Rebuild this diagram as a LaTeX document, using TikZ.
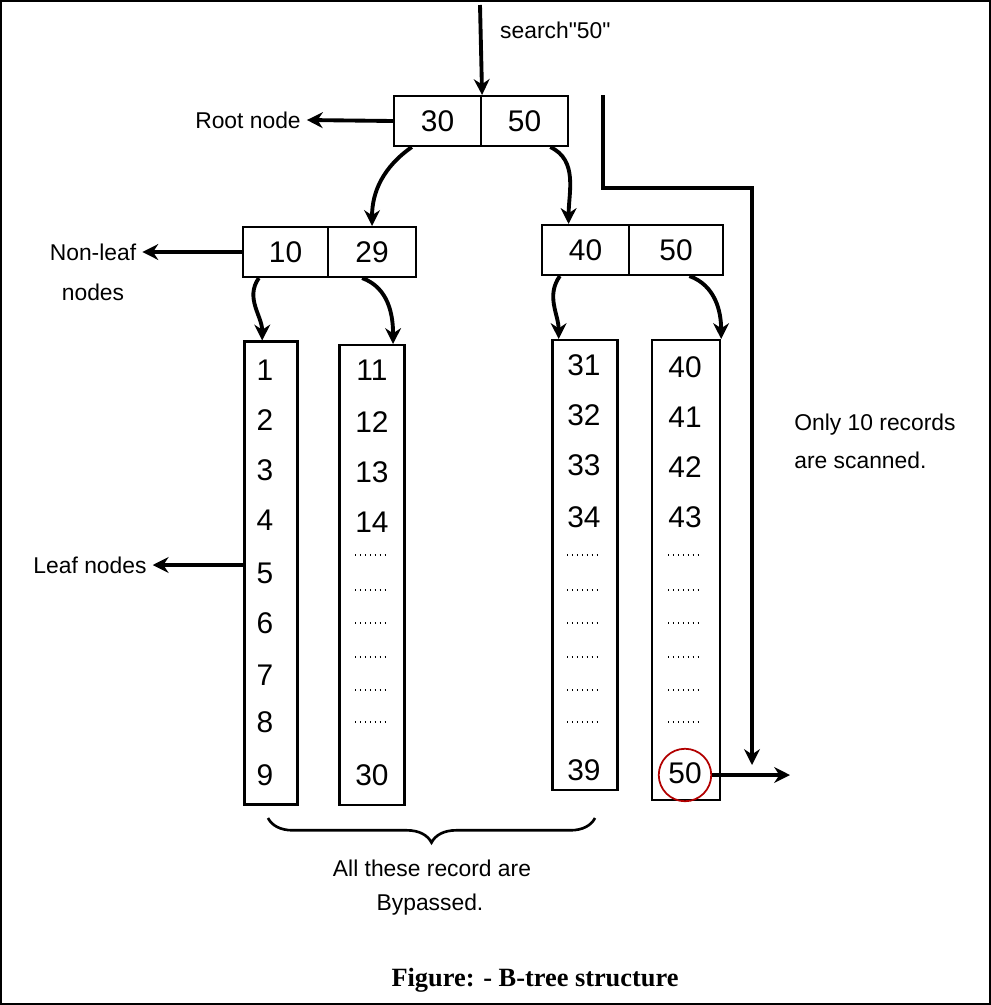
\documentclass[tikz,border=0pt]{standalone}
\usepackage{fontspec}
\setmainfont{Liberation Serif}
\newfontfamily\handfont{Liberation Sans}
\usetikzlibrary{arrows.meta,decorations.pathreplacing}
\begin{document}
\begin{tikzpicture}
        [
            x=0.02cm, y=-0.02cm,
            key/.style = {draw, line width=1.2pt, rectangle, minimum width=1.74cm, minimum height=1cm, inner sep=0pt, font=\handfont\fontsize{17}{17}\selectfont, anchor=west},
            leaf/.style = {draw, line width=1.2pt, rectangle, minimum width=1.15cm, inner sep=0pt},
            num/.style = {font=\handfont\fontsize{17}{17}\selectfont},
            lbl/.style = {font=\handfont\fontsize{13}{13}\selectfont},
            arr/.style = {-{Stealth[length=9pt,width=9pt]}, line width=2.2pt},
            dots/.style = {dotted, line width=0.8pt},
        ]
        \useasboundingbox (0,0) rectangle (991,1005);
        \fill[white] (0,0) rectangle (991,1005);
        % root node
        \node [key] (r1) at (393,121) {30};
        \node [key] (r2) at (480,121) {50};
        \node [lbl, anchor=west] (search) at (494,30) {search"50"};
        \coordinate (stop) at (480,5);
        \draw[arr] (stop) -- (r1.north east);
        \node [lbl] (rootlbl) at (248,120) {Root node};
        \draw[arr] (r1.west) -- (rootlbl.east);
        % non-leaf nodes
        \node [key, minimum width=1.7cm] (n1) at (242,252) {10};
        \node [key, minimum width=1.76cm] (n2) at (327,252) {29};
        \node [key, minimum width=1.74cm] (n3) at (541,250) {40};
        \node [key, minimum width=1.88cm] (n4) at (628,250) {50};
        \draw[arr] ([xshift=-40]r1.south east) to[out=215, in=90] (n2.north);
        \draw[arr] ([xshift=40]r2.south west) to[out=-25, in=90] ([xshift=-35]n3.north east);
        \node [lbl] (nl1) at (93,252) {Non-leaf};
        \node [lbl] (nl2) at (93,292) {nodes};
        \draw[arr] (n1.west) -- (nl1.east);
        % leaf nodes
        \node [leaf, minimum width=1.06cm, minimum height=9.26cm] (l1) at (271,573) {};
        \node [leaf, minimum width=1.3cm, minimum height=9.2cm] (l2) at (372,575) {};
        \node [leaf, minimum width=1.3cm, minimum height=9cm] (l3) at (585,565) {};
        \node [leaf, minimum width=1.36cm, minimum height=9.2cm] (l4) at (686,570) {};
        \draw[arr] ([xshift=-40]n1.south east) to[out=235, in=90] ([xshift=-5]l1.north);
        \draw[arr] ([xshift=20]n2.south west) to[out=-20, in=90] ([xshift=12]l2.north);
        \draw[arr] ([xshift=-40]n3.south east) to[out=235, in=90] ([xshift=-15]l3.north);
        \draw[arr] ([xshift=35]n4.south west) to[out=-20, in=90] ([xshift=20]l4.north);
        \foreach \v/\y in {1/370,2/420,3/470,4/520,5/573,6/623,7/675,8/722,9/775}
            \node [num] (a\v) at (265,\y) {\v};
        \foreach \v/\y in {11/370,12/422,13/472,14/522,30/775}
            \node [num] (b\v) at (372,\y) {\v};
        \foreach \v/\y in {31/365,32/415,33/465,34/517,39/770}
            \node [num] (c\v) at (584,\y) {\v};
        \foreach \v/\y in {40/367,41/417,42/467,43/517,50/773}
            \node [num] (d\v) at (685,\y) {\v};
        \foreach \x in {372,584,685}
            \foreach \y in {555,590,623,657,690,722}
                \draw[dots] (\x-17,\y) -- (\x+17,\y);
        \node [draw=red!70!black, circle, line width=1pt, minimum size=1.05cm] (hit) at (685,775) {};
        \node [lbl] (leaflbl) at (90,565) {Leaf nodes};
        \draw[arr] (l1.west |- leaflbl) -- (leaflbl.east);
        % scan path
        \coordinate (p1) at (603,95);
        \coordinate (p2) at (603,188);
        \coordinate (p3) at (752,188);
        \coordinate (p4) at (752,765);
        \coordinate (out) at (790,775);
        \draw[arr] (p1) -- (p2) -- (p3) -- (p4);
        \draw[arr] (hit.east) -- (out);
        \node [lbl, align=left] (scan1) at (875,425) {Only 10 records};
        \node [lbl, anchor=west] (scan2) at (scan1.west |- 0,460) {are scanned.};
        % bypassed
        \coordinate (br1) at (268,818);
        \coordinate (br2) at (595,818);
        \draw[line width=1.5pt, decorate, decoration={brace, amplitude=14pt, mirror}] (br1) -- (br2);
        \node [lbl] (bp1) at (432,868) {All these record are};
        \node [lbl] (bp2) at (430,905) {Bypassed.};
        \node [font=\bfseries\fontsize{15}{15}\selectfont] (cap) at (535,980) {Figure: - B-tree structure};
        \draw[line width=2pt] (0,0) rectangle (991,1005);
\end{tikzpicture}
\end{document}
